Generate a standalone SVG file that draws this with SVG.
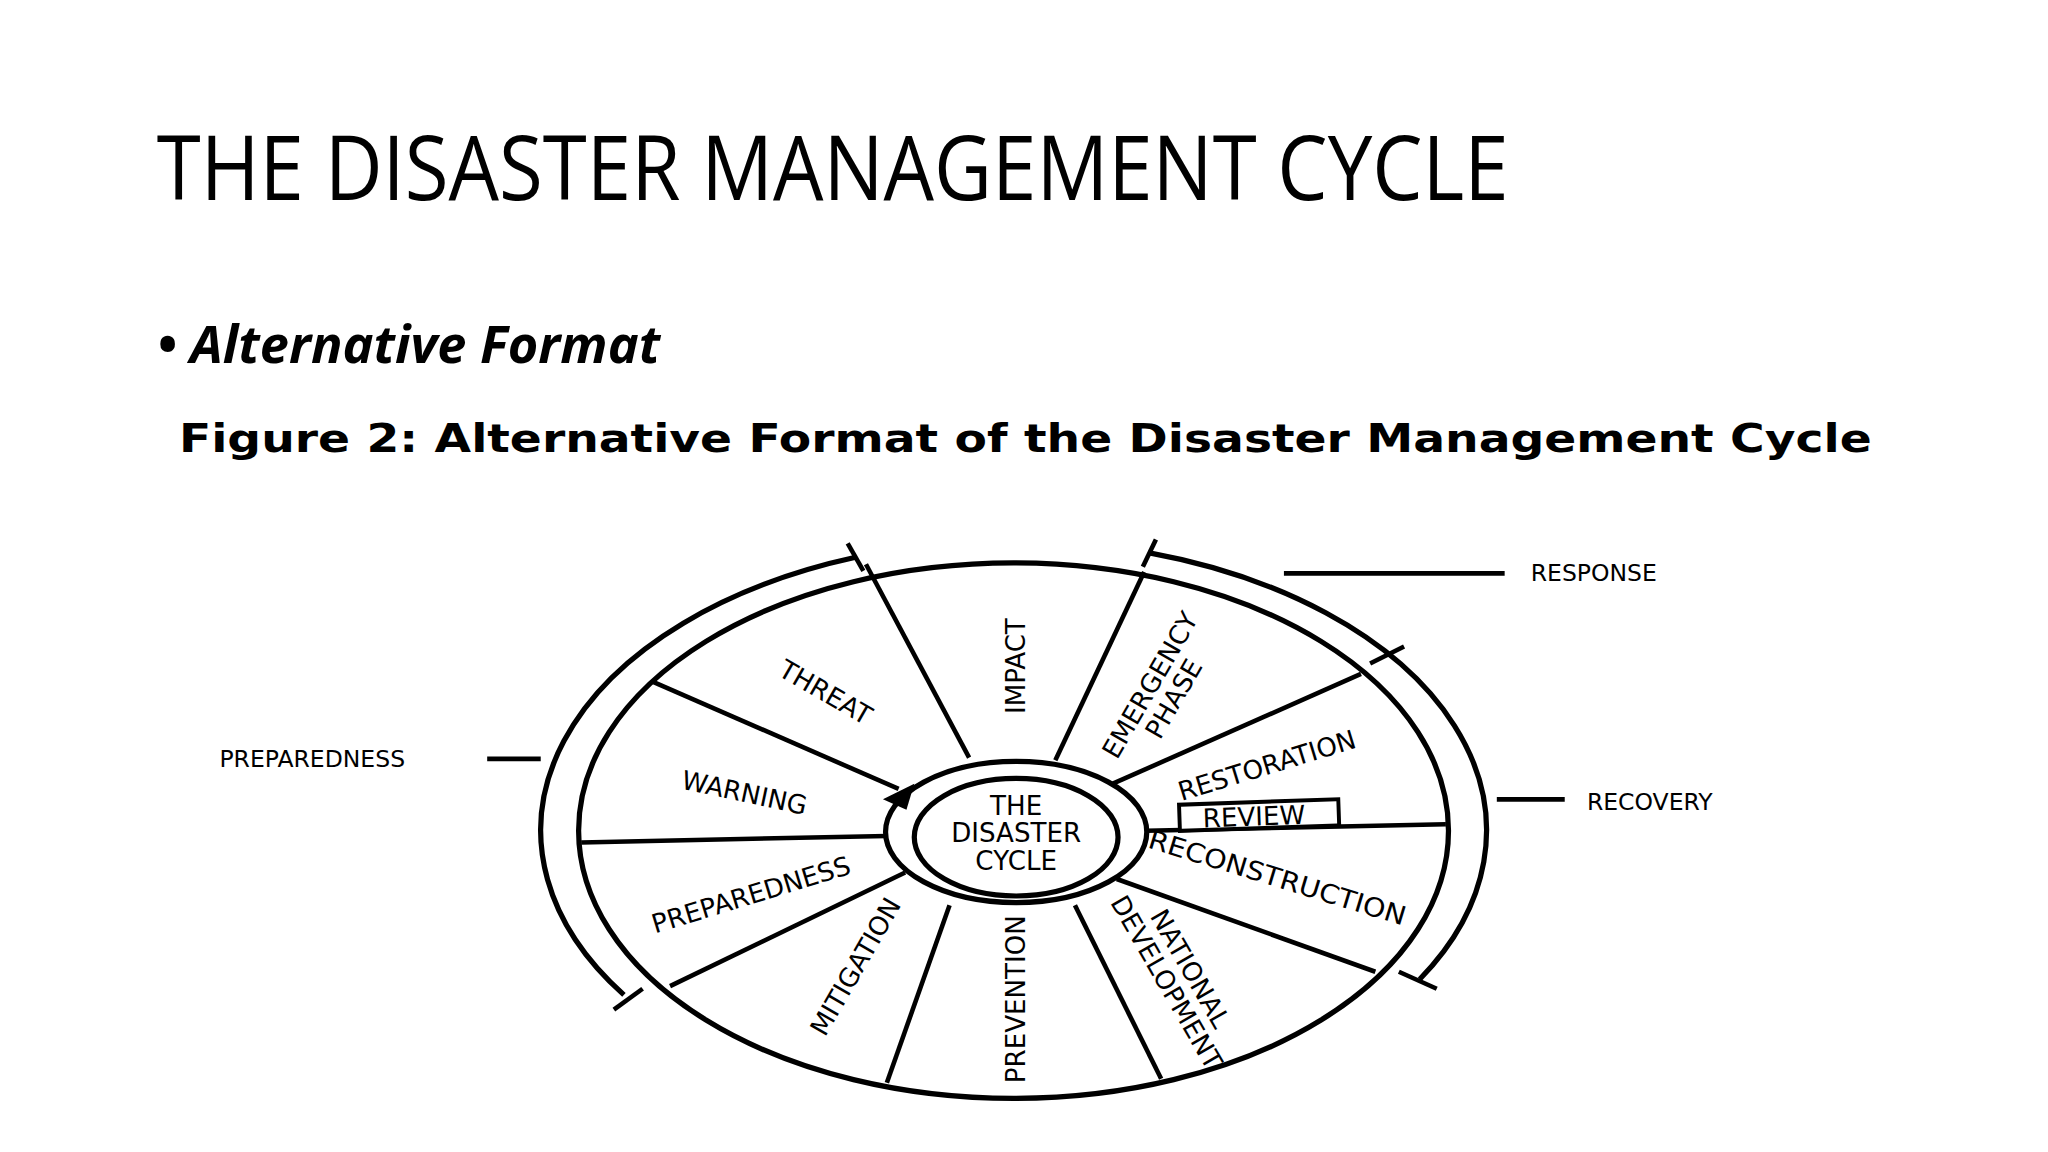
<svg xmlns="http://www.w3.org/2000/svg" width="2048" height="1152" viewBox="0 0 2048 1152">
<style>
.w{fill:none;stroke:#000;stroke-width:4}
.s{stroke:#000;stroke-width:3.5}
.l{font-family:"DejaVu Sans","Liberation Sans",sans-serif;font-size:20px;fill:#000;text-anchor:middle}
.o{font-family:"DejaVu Sans","Liberation Sans",sans-serif;font-size:18px;fill:#000}
</style>
<rect width="2048" height="1152" fill="#fff"/>
<g transform="scale(1.306122)">
<g id="title"><text x="120" y="153" font-family="Open Sans,Liberation Sans,sans-serif" font-size="68" textLength="1035" lengthAdjust="spacingAndGlyphs">THE DISASTER MANAGEMENT CYCLE</text></g>
<g id="bullet"><text x="120" y="278" font-family="Open Sans,Liberation Sans,sans-serif" font-size="40" font-weight="bold" font-style="italic">• <tspan textLength="360" lengthAdjust="spacingAndGlyphs">Alternative Format</tspan></text></g>
<g id="caption"><text x="137" y="346" font-family="DejaVu Sans,Liberation Sans,sans-serif" font-size="30" font-weight="bold" textLength="1296" lengthAdjust="spacingAndGlyphs">Figure 2: Alternative Format of the Disaster Management Cycle</text></g>
<g id="wheel">
<ellipse class="w" cx="776" cy="636" rx="333" ry="205"/>
<ellipse class="w" cx="778" cy="637" rx="100" ry="54"/>
<ellipse class="w" cx="778" cy="641" rx="78" ry="45"/>
</g>
<g id="connectors">
<line class="s" x1="663" y1="432" x2="742" y2="580"/>
<line class="s" x1="876" y1="438" x2="808" y2="582"/>
<line class="s" x1="1042" y1="516" x2="852" y2="600"/>
<line class="s" x1="1107" y1="631" x2="878" y2="636"/>
<line class="s" x1="1053" y1="744" x2="855" y2="673"/>
<line class="s" x1="889" y1="826" x2="823" y2="693"/>
<line class="s" x1="679" y1="829" x2="727" y2="693"/>
<line class="s" x1="513" y1="755" x2="693" y2="668"/>
<line class="s" x1="445" y1="645" x2="679" y2="640"/>
<line class="s" x1="500" y1="522" x2="688" y2="604"/>
<polygon points="676,612 700,600 694,620" fill="#000"/>
<path class="w" d="M655.1,426.7 A362,222 0 0 0 477.7,761.7"/>
<path class="w" d="M880,423.3 A362,222 0 0 1 1087,749.7"/>
<line class="s" x1="661" y1="437" x2="649" y2="416"/>
<line class="s" x1="492" y1="757" x2="470" y2="773"/>
<line class="s" x1="875" y1="434" x2="885" y2="413"/>
<line class="s" x1="1049" y1="508" x2="1075" y2="495"/>
<line class="s" x1="1071" y1="744" x2="1100" y2="757"/>
<line class="s" x1="983" y1="439" x2="1152" y2="439"/>
<line class="s" x1="1146" y1="612" x2="1198" y2="612"/>
<line class="s" x1="373" y1="581" x2="414" y2="581"/>
</g>
<g id="outer-labels">
<text class="o" x="1172" y="445">RESPONSE</text>
<text class="o" x="1215" y="620">RECOVERY</text>
<text class="o" x="168" y="587">PREPAREDNESS</text>
</g>
<g id="center"><text class="l" x="778" y="624">THE</text><text class="l" x="778" y="645">DISASTER</text><text class="l" x="778" y="666">CYCLE</text></g>
<g id="threat"><text class="l" transform="translate(632,530) rotate(30)" y="7">THREAT</text></g>
<g id="impact"><text class="l" transform="translate(778,510) rotate(-90)" y="7">IMPACT</text></g>
<g id="emergency"><text class="l" transform="translate(890,530) rotate(-60)"><tspan x="0" y="-4">EMERGENCY</tspan><tspan x="0" y="17">PHASE</tspan></text></g>
<g id="restoration"><text class="l" transform="translate(970,586) rotate(-17)" y="7">RESTORATION</text></g>
<g id="review"><g transform="rotate(-2 964 624)"><rect x="903" y="614" width="122" height="20" fill="#fff" stroke="#000" stroke-width="3"/><text class="l" x="960" y="632">REVIEW</text></g></g>
<g id="reconstruction"><text class="l" transform="translate(978,672) rotate(17)" y="7" textLength="205" lengthAdjust="spacingAndGlyphs">RECONSTRUCTION</text></g>
<g id="national"><text class="l" transform="translate(900,748) rotate(60)"><tspan x="0" y="-6">NATIONAL</tspan><tspan x="0" y="15">DEVELOPMENT</tspan></text></g>
<g id="prevention"><text class="l" transform="translate(778,765) rotate(-90)" y="7">PREVENTION</text></g>
<g id="mitigation"><text class="l" transform="translate(655,740) rotate(-60)" y="7">MITIGATION</text></g>
<g id="preparedness"><text class="l" transform="translate(575,685) rotate(-17)" y="7">PREPAREDNESS</text></g>
<g id="warning"><text class="l" transform="translate(570,607) rotate(12)" y="7">WARNING</text></g>
</g>
</svg>
